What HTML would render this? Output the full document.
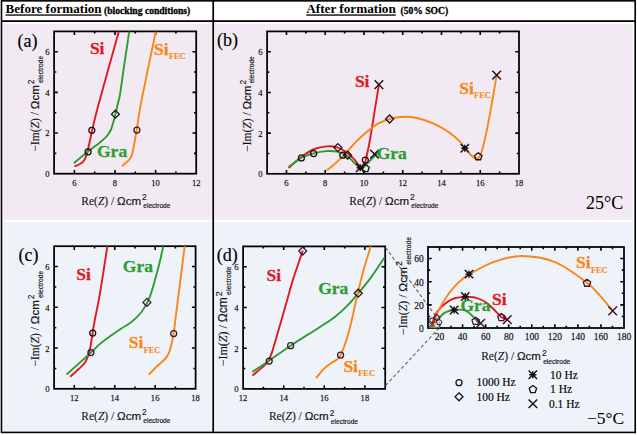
<!DOCTYPE html>
<html><head><meta charset="utf-8"><style>html,body{margin:0;padding:0;background:#fff;}svg{display:block;}</style></head>
<body>
<svg width="637" height="435" viewBox="0 0 637 435">
<rect width="637" height="435" fill="#fdfdfd"/>
<rect x="1.5" y="0.8" width="633.5" height="431.4" fill="#fff"/>
<rect x="3" y="23.6" width="208.6" height="196.2" fill="#f2eaf3"/>
<rect x="214.6" y="23.6" width="418.4" height="196.2" fill="#f2eaf3"/>
<rect x="3" y="221.8" width="208.6" height="209.4" fill="#eef3fa"/>
<rect x="214.6" y="221.8" width="418.4" height="209.4" fill="#eef3fa"/>
<rect x="1.5" y="0.85" width="633.7" height="431.55" fill="none" stroke="#000" stroke-width="1.6"/>
<path d="M1.5,21.0H635.2M213.2,0.9V432.4" stroke="#000" stroke-width="1.75"/>
<text x="5.5" y="13.4" font-family='"Liberation Serif", serif' font-size="13.1" font-weight="bold" fill="#000" text-decoration="underline">Before formation</text>
<text x="104.10" y="13.90" font-family='"Liberation Serif", serif' font-size="9.60" font-weight="bold" fill="#000" stroke="#000" stroke-width="0.30" text-anchor="start" >(blocking conditions)</text>
<text x="306.3" y="13.4" font-family='"Liberation Serif", serif' font-size="13.2" font-weight="bold" fill="#000" text-decoration="underline">After formation</text>
<text x="400.50" y="13.90" font-family='"Liberation Serif", serif' font-size="9.60" font-weight="bold" fill="#000" stroke="#000" stroke-width="0.30" text-anchor="start" >(50% SOC)</text>
<text x="17.60" y="46.50" font-family='"Liberation Serif", serif' font-size="18.00" font-weight="normal" fill="#000" stroke="#000" stroke-width="0.15" text-anchor="start" >(a)</text>
<path d="M74.40,173.70V170.00M74.40,31.40V35.10M94.70,173.70V171.50M94.70,31.40V33.60M115.00,173.70V170.00M115.00,31.40V35.10M135.30,173.70V171.50M135.30,31.40V33.60M155.60,173.70V170.00M155.60,31.40V35.10M175.90,173.70V171.50M175.90,31.40V33.60M54.10,153.37H56.30M196.20,153.37H194.00M54.10,133.04H57.80M196.20,133.04H192.50M54.10,112.71H56.30M196.20,112.71H194.00M54.10,92.39H57.80M196.20,92.39H192.50M54.10,72.06H56.30M196.20,72.06H194.00M54.10,51.73H57.80M196.20,51.73H192.50" stroke="#000" stroke-width="1.6" fill="none"/>
<rect x="54.10" y="31.40" width="142.10" height="142.30" fill="none" stroke="#000" stroke-width="1.75"/>
<text x="74.40" y="185.70" font-family='"Liberation Serif", serif' font-size="8.60" font-weight="normal" fill="#111" stroke="#111" stroke-width="0.15" text-anchor="middle" stroke-opacity="0.6" style="stroke-width:0.3">6</text>
<text x="115.00" y="185.70" font-family='"Liberation Serif", serif' font-size="8.60" font-weight="normal" fill="#111" stroke="#111" stroke-width="0.15" text-anchor="middle" stroke-opacity="0.6" style="stroke-width:0.3">8</text>
<text x="155.60" y="185.70" font-family='"Liberation Serif", serif' font-size="8.60" font-weight="normal" fill="#111" stroke="#111" stroke-width="0.15" text-anchor="middle" stroke-opacity="0.6" style="stroke-width:0.3">10</text>
<text x="196.20" y="185.70" font-family='"Liberation Serif", serif' font-size="8.60" font-weight="normal" fill="#111" stroke="#111" stroke-width="0.15" text-anchor="middle" stroke-opacity="0.6" style="stroke-width:0.3">12</text>
<text x="49.60" y="177.14" font-family='"Liberation Serif", serif' font-size="8.60" font-weight="normal" fill="#111" stroke="#111" stroke-width="0.15" text-anchor="end" stroke-opacity="0.6" style="stroke-width:0.3">0</text>
<text x="49.60" y="136.48" font-family='"Liberation Serif", serif' font-size="8.60" font-weight="normal" fill="#111" stroke="#111" stroke-width="0.15" text-anchor="end" stroke-opacity="0.6" style="stroke-width:0.3">2</text>
<text x="49.60" y="95.83" font-family='"Liberation Serif", serif' font-size="8.60" font-weight="normal" fill="#111" stroke="#111" stroke-width="0.15" text-anchor="end" stroke-opacity="0.6" style="stroke-width:0.3">4</text>
<text x="49.60" y="55.17" font-family='"Liberation Serif", serif' font-size="8.60" font-weight="normal" fill="#111" stroke="#111" stroke-width="0.15" text-anchor="end" stroke-opacity="0.6" style="stroke-width:0.3">6</text>
<g transform="translate(38.80,151.50) rotate(-90)">
<text x="0" y="0" font-family='"Liberation Serif", serif' font-size="11.50" fill="#111" stroke="#111" stroke-width="0.1">−Im(<tspan font-style="italic">Z</tspan>) / <tspan font-family='"Liberation Sans", sans-serif' stroke-width="0.18">Ωcm<tspan dx="1.00" dy="-4.60" font-size="8.50" stroke-width="0.12">2</tspan><tspan dx="-3.50" dy="8.30" font-size="6.60" stroke-width="0.15">electrode</tspan></tspan></text>
</g>
<text x="81.30" y="204.50" font-family='"Liberation Serif", serif' font-size="11.50" fill="#111" stroke="#111" stroke-width="0.1">Re(<tspan font-style="italic">Z</tspan>) / <tspan font-family='"Liberation Sans", sans-serif' stroke-width="0.18">Ωcm<tspan dx="1.00" dy="-4.60" font-size="8.50" stroke-width="0.12">2</tspan><tspan dx="-3.50" dy="8.30" font-size="6.60" stroke-width="0.15">electrode</tspan></tspan></text>
<path d="M74.50,166.30 C75.25,166.00 77.53,165.33 79.00,164.50 C80.47,163.67 82.17,162.58 83.30,161.30 C84.43,160.02 85.03,158.72 85.80,156.80 C86.57,154.88 87.17,152.70 87.90,149.80 C88.63,146.90 89.50,142.63 90.20,139.40 C90.90,136.17 90.73,136.13 92.10,130.40 C93.47,124.67 93.95,121.47 98.40,105.00 C102.85,88.53 115.40,43.83 118.80,31.60" fill="none" stroke="#e3171f" stroke-width="1.90" stroke-linecap="butt" stroke-linejoin="round"/>
<path d="M73.70,163.30 C76.08,161.33 83.63,154.98 88.00,151.50 C92.37,148.02 96.82,144.90 99.90,142.40 C102.98,139.90 104.65,138.65 106.50,136.50 C108.35,134.35 109.83,132.00 111.00,129.50 C112.17,127.00 112.78,123.97 113.50,121.50 C114.22,119.03 114.63,117.45 115.30,114.70 C115.97,111.95 116.72,108.40 117.50,105.00 C118.28,101.60 119.00,100.13 120.00,94.30 C121.00,88.47 121.97,80.45 123.50,70.00 C125.03,59.55 128.25,38.00 129.20,31.60" fill="none" stroke="#2f9c2f" stroke-width="1.90" stroke-linecap="butt" stroke-linejoin="round"/>
<path d="M121.80,166.30 C122.42,165.75 124.22,164.17 125.50,163.00 C126.78,161.83 128.42,160.72 129.50,159.30 C130.58,157.88 131.20,157.13 132.00,154.50 C132.80,151.87 133.52,147.62 134.30,143.50 C135.08,139.38 135.48,137.05 136.70,129.80 C137.92,122.55 138.42,116.37 141.60,100.00 C144.78,83.63 153.43,43.00 155.80,31.60" fill="none" stroke="#fb8616" stroke-width="1.90" stroke-linecap="butt" stroke-linejoin="round"/>
<circle cx="91.80" cy="130.30" r="3.00" fill="none" stroke="#1b0f16" stroke-width="1.25"/>
<circle cx="88.10" cy="151.80" r="3.00" fill="none" stroke="#1b0f16" stroke-width="1.25"/>
<path d="M115.40,110.20 L119.40,114.20 L115.40,118.20 L111.40,114.20 Z" fill="none" stroke="#1b0f16" stroke-width="1.25"/>
<circle cx="136.90" cy="130.00" r="3.00" fill="none" stroke="#3e1434" stroke-width="1.25"/>
<text x="89.90" y="54.10" font-family='"Liberation Serif", serif' font-size="17.50" font-weight="bold" fill="#e3171f" stroke="#e3171f" stroke-width="0.30" text-anchor="start" >Si</text>
<text x="97.00" y="156.50" font-family='"Liberation Serif", serif' font-size="17.50" font-weight="bold" fill="#2f9c2f" stroke="#2f9c2f" stroke-width="0.30" text-anchor="start" >Gra</text>
<text x="154.00" y="54.70" font-family='"Liberation Serif", serif' font-size="17.50" font-weight="bold" fill="#fb8616" stroke="#fb8616" stroke-width="0.30">Si<tspan font-size="8.3" dy="4.5" dx="0.3" stroke-width="0.15">FEC</tspan></text>
<text x="217.10" y="46.00" font-family='"Liberation Serif", serif' font-size="18.00" font-weight="normal" fill="#000" stroke="#000" stroke-width="0.15" text-anchor="start" >(b)</text>
<path d="M286.48,173.80V170.10M286.48,31.40V35.10M305.85,173.80V171.60M305.85,31.40V33.60M325.23,173.80V170.10M325.23,31.40V35.10M344.61,173.80V171.60M344.61,31.40V33.60M363.98,173.80V170.10M363.98,31.40V35.10M383.36,173.80V171.60M383.36,31.40V33.60M402.74,173.80V170.10M402.74,31.40V35.10M422.12,173.80V171.60M422.12,31.40V33.60M441.49,173.80V170.10M441.49,31.40V35.10M460.87,173.80V171.60M460.87,31.40V33.60M480.25,173.80V170.10M480.25,31.40V35.10M499.62,173.80V171.60M499.62,31.40V33.60M267.10,153.46H269.30M519.00,153.46H516.80M267.10,133.11H270.80M519.00,133.11H515.30M267.10,112.77H269.30M519.00,112.77H516.80M267.10,92.43H270.80M519.00,92.43H515.30M267.10,72.09H269.30M519.00,72.09H516.80M267.10,51.74H270.80M519.00,51.74H515.30" stroke="#000" stroke-width="1.6" fill="none"/>
<rect x="267.10" y="31.40" width="251.90" height="142.40" fill="none" stroke="#000" stroke-width="1.75"/>
<text x="286.48" y="185.80" font-family='"Liberation Serif", serif' font-size="8.60" font-weight="normal" fill="#111" stroke="#111" stroke-width="0.15" text-anchor="middle" stroke-opacity="0.6" style="stroke-width:0.3">6</text>
<text x="325.23" y="185.80" font-family='"Liberation Serif", serif' font-size="8.60" font-weight="normal" fill="#111" stroke="#111" stroke-width="0.15" text-anchor="middle" stroke-opacity="0.6" style="stroke-width:0.3">8</text>
<text x="363.98" y="185.80" font-family='"Liberation Serif", serif' font-size="8.60" font-weight="normal" fill="#111" stroke="#111" stroke-width="0.15" text-anchor="middle" stroke-opacity="0.6" style="stroke-width:0.3">10</text>
<text x="402.74" y="185.80" font-family='"Liberation Serif", serif' font-size="8.60" font-weight="normal" fill="#111" stroke="#111" stroke-width="0.15" text-anchor="middle" stroke-opacity="0.6" style="stroke-width:0.3">12</text>
<text x="441.49" y="185.80" font-family='"Liberation Serif", serif' font-size="8.60" font-weight="normal" fill="#111" stroke="#111" stroke-width="0.15" text-anchor="middle" stroke-opacity="0.6" style="stroke-width:0.3">14</text>
<text x="480.25" y="185.80" font-family='"Liberation Serif", serif' font-size="8.60" font-weight="normal" fill="#111" stroke="#111" stroke-width="0.15" text-anchor="middle" stroke-opacity="0.6" style="stroke-width:0.3">16</text>
<text x="519.00" y="185.80" font-family='"Liberation Serif", serif' font-size="8.60" font-weight="normal" fill="#111" stroke="#111" stroke-width="0.15" text-anchor="middle" stroke-opacity="0.6" style="stroke-width:0.3">18</text>
<text x="262.60" y="177.24" font-family='"Liberation Serif", serif' font-size="8.60" font-weight="normal" fill="#111" stroke="#111" stroke-width="0.15" text-anchor="end" stroke-opacity="0.6" style="stroke-width:0.3">0</text>
<text x="262.60" y="136.55" font-family='"Liberation Serif", serif' font-size="8.60" font-weight="normal" fill="#111" stroke="#111" stroke-width="0.15" text-anchor="end" stroke-opacity="0.6" style="stroke-width:0.3">2</text>
<text x="262.60" y="95.87" font-family='"Liberation Serif", serif' font-size="8.60" font-weight="normal" fill="#111" stroke="#111" stroke-width="0.15" text-anchor="end" stroke-opacity="0.6" style="stroke-width:0.3">4</text>
<text x="262.60" y="55.18" font-family='"Liberation Serif", serif' font-size="8.60" font-weight="normal" fill="#111" stroke="#111" stroke-width="0.15" text-anchor="end" stroke-opacity="0.6" style="stroke-width:0.3">6</text>
<g transform="translate(250.50,151.80) rotate(-90)">
<text x="0" y="0" font-family='"Liberation Serif", serif' font-size="11.50" fill="#111" stroke="#111" stroke-width="0.1">−Im(<tspan font-style="italic">Z</tspan>) / <tspan font-family='"Liberation Sans", sans-serif' stroke-width="0.18">Ωcm<tspan dx="1.00" dy="-4.60" font-size="8.50" stroke-width="0.12">2</tspan><tspan dx="-3.50" dy="8.30" font-size="6.60" stroke-width="0.15">electrode</tspan></tspan></text>
</g>
<text x="349.30" y="204.50" font-family='"Liberation Serif", serif' font-size="11.50" fill="#111" stroke="#111" stroke-width="0.1">Re(<tspan font-style="italic">Z</tspan>) / <tspan font-family='"Liberation Sans", sans-serif' stroke-width="0.18">Ωcm<tspan dx="1.00" dy="-4.60" font-size="8.50" stroke-width="0.12">2</tspan><tspan dx="-3.50" dy="8.30" font-size="6.60" stroke-width="0.15">electrode</tspan></tspan></text>
<path d="M288.60,168.00 C290.77,166.13 297.28,159.97 301.60,156.80 C305.92,153.63 310.33,150.73 314.50,149.00 C318.67,147.27 322.85,146.68 326.60,146.40 C330.35,146.12 333.83,146.43 337.00,147.30 C340.17,148.17 342.72,149.58 345.60,151.60 C348.48,153.62 351.85,156.77 354.30,159.40 C356.75,162.03 359.30,166.07 360.30,167.40" fill="none" stroke="#e3171f" stroke-width="1.90" stroke-linecap="butt" stroke-linejoin="round"/>
<path d="M360.30,167.40 C360.93,167.08 362.65,169.23 364.10,165.50 C365.55,161.77 367.62,151.75 369.00,145.00 C370.38,138.25 370.75,135.07 372.40,125.00 C374.05,114.93 377.82,91.33 378.90,84.60" fill="none" stroke="#e3171f" stroke-width="1.90" stroke-linecap="butt" stroke-linejoin="round"/>
<path d="M288.60,167.10 C290.77,165.52 297.42,159.90 301.60,157.60 C305.78,155.30 309.67,154.38 313.70,153.30 C317.73,152.22 321.92,151.38 325.80,151.10 C329.68,150.82 333.55,150.85 337.00,151.60 C340.45,152.35 343.62,153.73 346.50,155.60 C349.38,157.47 351.85,160.45 354.30,162.80 C356.75,165.15 360.05,168.55 361.20,169.70" fill="none" stroke="#2f9c2f" stroke-width="1.90" stroke-linecap="butt" stroke-linejoin="round"/>
<path d="M361.20,169.70 C363.13,167.72 369.67,160.88 372.80,157.80 C375.93,154.72 378.80,152.30 380.00,151.20" fill="none" stroke="#2f9c2f" stroke-width="1.90" stroke-linecap="butt" stroke-linejoin="round"/>
<path d="M326.90,170.30 C328.05,169.38 330.93,167.32 333.80,164.80 C336.67,162.28 340.65,158.77 344.10,155.20 C347.55,151.63 350.93,147.08 354.50,143.40 C358.07,139.72 361.58,136.40 365.50,133.10 C369.42,129.80 373.98,125.95 378.00,123.60 C382.02,121.25 385.83,120.10 389.60,119.00 C393.37,117.90 397.00,117.33 400.60,117.00 C404.20,116.67 407.27,116.50 411.20,117.00 C415.13,117.50 419.68,118.52 424.20,120.00 C428.72,121.48 434.00,123.73 438.30,125.90 C442.60,128.07 446.47,130.45 450.00,133.00 C453.53,135.55 457.02,138.73 459.50,141.20 C461.98,143.67 462.95,145.45 464.90,147.80 C466.85,150.15 469.38,153.50 471.20,155.30 C473.02,157.10 474.40,158.40 475.80,158.60 C477.20,158.80 478.40,158.42 479.60,156.50 C480.80,154.58 481.65,152.20 483.00,147.10 C484.35,142.00 486.13,133.75 487.70,125.90 C489.27,118.05 490.90,108.47 492.40,100.00 C493.90,91.53 495.98,79.25 496.70,75.10" fill="none" stroke="#fb8616" stroke-width="1.90" stroke-linecap="butt" stroke-linejoin="round"/>
<circle cx="301.40" cy="157.90" r="3.00" fill="none" stroke="#1b0f16" stroke-width="1.25"/>
<circle cx="313.70" cy="153.60" r="3.00" fill="none" stroke="#1b0f16" stroke-width="1.25"/>
<circle cx="342.80" cy="155.20" r="3.00" fill="none" stroke="#1b0f16" stroke-width="1.25"/>
<circle cx="365.30" cy="160.00" r="3.00" fill="none" stroke="#1b0f16" stroke-width="1.25"/>
<path d="M337.90,143.60 L341.90,147.60 L337.90,151.60 L333.90,147.60 Z" fill="none" stroke="#1b0f16" stroke-width="1.25"/>
<path d="M347.60,151.20 L351.60,155.20 L347.60,159.20 L343.60,155.20 Z" fill="none" stroke="#1b0f16" stroke-width="1.25"/>
<path d="M389.60,115.00 L393.60,119.00 L389.60,123.00 L385.60,119.00 Z" fill="none" stroke="#1b0f16" stroke-width="1.25"/>
<path d="M356.00,163.60 L364.40,172.00 M356.00,172.00 L364.40,163.60 M356.63,167.80 L363.77,167.80 M360.20,164.23 L360.20,171.37" stroke="#1b0f16" stroke-width="1.45"/>
<circle cx="360.20" cy="167.80" r="1.9" fill="#1b0f16"/>
<path d="M460.60,144.10 L469.00,152.50 M460.60,152.50 L469.00,144.10 M461.23,148.30 L468.37,148.30 M464.80,144.73 L464.80,151.87" stroke="#1b0f16" stroke-width="1.45"/>
<circle cx="464.80" cy="148.30" r="1.9" fill="#1b0f16"/>
<polygon points="365.50,164.50 369.21,167.19 367.79,171.56 363.21,171.56 361.79,167.19" fill="none" stroke="#1b0f16" stroke-width="1.30"/>
<polygon points="478.30,152.70 482.01,155.39 480.59,159.76 476.01,159.76 474.59,155.39" fill="none" stroke="#1b0f16" stroke-width="1.30"/>
<path d="M370.20,149.80 L378.80,158.40 M370.20,158.40 L378.80,149.80" stroke="#1b0f16" stroke-width="1.45"/>
<path d="M374.60,80.30 L383.20,88.90 M374.60,88.90 L383.20,80.30" stroke="#1b0f16" stroke-width="1.45"/>
<path d="M492.40,70.80 L501.00,79.40 M492.40,79.40 L501.00,70.80" stroke="#1b0f16" stroke-width="1.45"/>
<text x="354.90" y="87.20" font-family='"Liberation Serif", serif' font-size="17.50" font-weight="bold" fill="#e3171f" stroke="#e3171f" stroke-width="0.30" text-anchor="start" >Si</text>
<text x="376.70" y="159.10" font-family='"Liberation Serif", serif' font-size="17.50" font-weight="bold" fill="#2f9c2f" stroke="#2f9c2f" stroke-width="0.30" text-anchor="start" >Gra</text>
<text x="459.20" y="93.50" font-family='"Liberation Serif", serif' font-size="17.50" font-weight="bold" fill="#fb8616" stroke="#fb8616" stroke-width="0.30">Si<tspan font-size="8.3" dy="4.5" dx="0.3" stroke-width="0.15">FEC</tspan></text>
<text x="586.00" y="209.00" font-family='"Liberation Serif", serif' font-size="18.00" font-weight="normal" fill="#000" stroke="#000" stroke-width="0.15" text-anchor="start" style="stroke-width:0.05">25°C</text>
<text x="18.50" y="260.50" font-family='"Liberation Serif", serif' font-size="18.00" font-weight="normal" fill="#000" stroke="#000" stroke-width="0.15" text-anchor="start" >(c)</text>
<path d="M74.31,388.80V385.10M74.31,246.20V249.90M94.53,388.80V386.60M94.53,246.20V248.40M114.74,388.80V385.10M114.74,246.20V249.90M134.96,388.80V386.60M134.96,246.20V248.40M155.17,388.80V385.10M155.17,246.20V249.90M175.39,388.80V386.60M175.39,246.20V248.40M54.10,368.43H56.30M195.60,368.43H193.40M54.10,348.06H57.80M195.60,348.06H191.90M54.10,327.69H56.30M195.60,327.69H193.40M54.10,307.31H57.80M195.60,307.31H191.90M54.10,286.94H56.30M195.60,286.94H193.40M54.10,266.57H57.80M195.60,266.57H191.90" stroke="#000" stroke-width="1.6" fill="none"/>
<rect x="54.10" y="246.20" width="141.50" height="142.60" fill="none" stroke="#000" stroke-width="1.75"/>
<text x="74.31" y="400.80" font-family='"Liberation Serif", serif' font-size="8.60" font-weight="normal" fill="#111" stroke="#111" stroke-width="0.15" text-anchor="middle" stroke-opacity="0.6" style="stroke-width:0.3">12</text>
<text x="114.74" y="400.80" font-family='"Liberation Serif", serif' font-size="8.60" font-weight="normal" fill="#111" stroke="#111" stroke-width="0.15" text-anchor="middle" stroke-opacity="0.6" style="stroke-width:0.3">14</text>
<text x="155.17" y="400.80" font-family='"Liberation Serif", serif' font-size="8.60" font-weight="normal" fill="#111" stroke="#111" stroke-width="0.15" text-anchor="middle" stroke-opacity="0.6" style="stroke-width:0.3">16</text>
<text x="195.60" y="400.80" font-family='"Liberation Serif", serif' font-size="8.60" font-weight="normal" fill="#111" stroke="#111" stroke-width="0.15" text-anchor="middle" stroke-opacity="0.6" style="stroke-width:0.3">18</text>
<text x="49.60" y="392.24" font-family='"Liberation Serif", serif' font-size="8.60" font-weight="normal" fill="#111" stroke="#111" stroke-width="0.15" text-anchor="end" stroke-opacity="0.6" style="stroke-width:0.3">0</text>
<text x="49.60" y="351.50" font-family='"Liberation Serif", serif' font-size="8.60" font-weight="normal" fill="#111" stroke="#111" stroke-width="0.15" text-anchor="end" stroke-opacity="0.6" style="stroke-width:0.3">2</text>
<text x="49.60" y="310.75" font-family='"Liberation Serif", serif' font-size="8.60" font-weight="normal" fill="#111" stroke="#111" stroke-width="0.15" text-anchor="end" stroke-opacity="0.6" style="stroke-width:0.3">4</text>
<text x="49.60" y="270.01" font-family='"Liberation Serif", serif' font-size="8.60" font-weight="normal" fill="#111" stroke="#111" stroke-width="0.15" text-anchor="end" stroke-opacity="0.6" style="stroke-width:0.3">6</text>
<g transform="translate(38.80,366.50) rotate(-90)">
<text x="0" y="0" font-family='"Liberation Serif", serif' font-size="11.50" fill="#111" stroke="#111" stroke-width="0.1">−Im(<tspan font-style="italic">Z</tspan>) / <tspan font-family='"Liberation Sans", sans-serif' stroke-width="0.18">Ωcm<tspan dx="1.00" dy="-4.60" font-size="8.50" stroke-width="0.12">2</tspan><tspan dx="-3.50" dy="8.30" font-size="6.60" stroke-width="0.15">electrode</tspan></tspan></text>
</g>
<text x="81.30" y="419.50" font-family='"Liberation Serif", serif' font-size="11.50" fill="#111" stroke="#111" stroke-width="0.1">Re(<tspan font-style="italic">Z</tspan>) / <tspan font-family='"Liberation Sans", sans-serif' stroke-width="0.18">Ωcm<tspan dx="1.00" dy="-4.60" font-size="8.50" stroke-width="0.12">2</tspan><tspan dx="-3.50" dy="8.30" font-size="6.60" stroke-width="0.15">electrode</tspan></tspan></text>
<path d="M70.20,376.70 C71.57,375.47 76.03,371.53 78.40,369.30 C80.77,367.07 82.78,365.55 84.40,363.30 C86.02,361.05 87.10,358.53 88.10,355.80 C89.10,353.07 89.65,350.68 90.40,346.90 C91.15,343.12 91.87,337.58 92.60,333.10 C93.33,328.62 93.57,326.67 94.80,320.00 C96.03,313.33 97.90,305.40 100.00,293.10 C102.10,280.80 106.17,254.02 107.40,246.20" fill="none" stroke="#e3171f" stroke-width="1.90" stroke-linecap="butt" stroke-linejoin="round"/>
<path d="M66.50,374.50 C70.53,370.88 85.12,357.90 90.70,352.80 C96.28,347.70 96.83,346.60 100.00,343.90 C103.17,341.20 106.08,339.22 109.70,336.60 C113.32,333.98 118.08,330.62 121.70,328.20 C125.32,325.78 128.17,324.72 131.40,322.10 C134.63,319.48 138.48,315.72 141.10,312.50 C143.72,309.28 145.50,305.83 147.10,302.80 C148.70,299.77 149.50,297.72 150.70,294.30 C151.90,290.88 152.88,287.32 154.30,282.30 C155.72,277.28 157.70,270.22 159.20,264.20 C160.70,258.18 162.62,249.20 163.30,246.20" fill="none" stroke="#2f9c2f" stroke-width="1.90" stroke-linecap="butt" stroke-linejoin="round"/>
<path d="M148.60,374.70 C150.03,373.25 154.62,368.45 157.20,366.00 C159.78,363.55 162.23,362.00 164.10,360.00 C165.97,358.00 167.25,356.30 168.40,354.00 C169.55,351.70 170.13,349.57 171.00,346.20 C171.87,342.83 172.67,339.83 173.60,333.80 C174.53,327.77 174.75,324.60 176.60,310.00 C178.45,295.40 183.35,256.83 184.70,246.20" fill="none" stroke="#fb8616" stroke-width="1.90" stroke-linecap="butt" stroke-linejoin="round"/>
<circle cx="92.70" cy="333.00" r="3.00" fill="none" stroke="#1b0f16" stroke-width="1.25"/>
<circle cx="90.90" cy="352.60" r="3.00" fill="none" stroke="#3e1434" stroke-width="1.25"/>
<path d="M146.90,298.40 L150.90,302.40 L146.90,306.40 L142.90,302.40 Z" fill="none" stroke="#3e1434" stroke-width="1.25"/>
<circle cx="173.70" cy="333.50" r="3.00" fill="none" stroke="#3e1434" stroke-width="1.25"/>
<text x="76.20" y="279.80" font-family='"Liberation Serif", serif' font-size="17.50" font-weight="bold" fill="#e3171f" stroke="#e3171f" stroke-width="0.30" text-anchor="start" >Si</text>
<text x="122.80" y="271.60" font-family='"Liberation Serif", serif' font-size="17.50" font-weight="bold" fill="#2f9c2f" stroke="#2f9c2f" stroke-width="0.30" text-anchor="start" >Gra</text>
<text x="128.80" y="348.00" font-family='"Liberation Serif", serif' font-size="17.50" font-weight="bold" fill="#fb8616" stroke="#fb8616" stroke-width="0.30">Si<tspan font-size="8.3" dy="4.5" dx="0.3" stroke-width="0.15">FEC</tspan></text>
<text x="216.80" y="261.00" font-family='"Liberation Serif", serif' font-size="18.00" font-weight="normal" fill="#000" stroke="#000" stroke-width="0.15" text-anchor="start" >(d)</text>
<path d="M263.40,388.90V386.70M263.40,246.40V248.60M283.70,388.90V385.20M283.70,246.40V250.10M304.00,388.90V386.70M304.00,246.40V248.60M324.30,388.90V385.20M324.30,246.40V250.10M344.60,388.90V386.70M344.60,246.40V248.60M364.90,388.90V385.20M364.90,246.40V250.10M243.10,368.54H245.30M385.20,368.54H383.00M243.10,348.19H246.80M385.20,348.19H381.50M243.10,327.83H245.30M385.20,327.83H383.00M243.10,307.47H246.80M385.20,307.47H381.50M243.10,287.11H245.30M385.20,287.11H383.00M243.10,266.76H246.80M385.20,266.76H381.50" stroke="#000" stroke-width="1.6" fill="none"/>
<rect x="243.10" y="246.40" width="142.10" height="142.50" fill="none" stroke="#000" stroke-width="1.75"/>
<text x="243.10" y="400.90" font-family='"Liberation Serif", serif' font-size="8.60" font-weight="normal" fill="#111" stroke="#111" stroke-width="0.15" text-anchor="middle" stroke-opacity="0.6" style="stroke-width:0.3">12</text>
<text x="283.70" y="400.90" font-family='"Liberation Serif", serif' font-size="8.60" font-weight="normal" fill="#111" stroke="#111" stroke-width="0.15" text-anchor="middle" stroke-opacity="0.6" style="stroke-width:0.3">14</text>
<text x="324.30" y="400.90" font-family='"Liberation Serif", serif' font-size="8.60" font-weight="normal" fill="#111" stroke="#111" stroke-width="0.15" text-anchor="middle" stroke-opacity="0.6" style="stroke-width:0.3">16</text>
<text x="364.90" y="400.90" font-family='"Liberation Serif", serif' font-size="8.60" font-weight="normal" fill="#111" stroke="#111" stroke-width="0.15" text-anchor="middle" stroke-opacity="0.6" style="stroke-width:0.3">18</text>
<text x="238.60" y="392.34" font-family='"Liberation Serif", serif' font-size="8.60" font-weight="normal" fill="#111" stroke="#111" stroke-width="0.15" text-anchor="end" stroke-opacity="0.6" style="stroke-width:0.3">0</text>
<text x="238.60" y="351.63" font-family='"Liberation Serif", serif' font-size="8.60" font-weight="normal" fill="#111" stroke="#111" stroke-width="0.15" text-anchor="end" stroke-opacity="0.6" style="stroke-width:0.3">2</text>
<text x="238.60" y="310.91" font-family='"Liberation Serif", serif' font-size="8.60" font-weight="normal" fill="#111" stroke="#111" stroke-width="0.15" text-anchor="end" stroke-opacity="0.6" style="stroke-width:0.3">4</text>
<text x="238.60" y="270.20" font-family='"Liberation Serif", serif' font-size="8.60" font-weight="normal" fill="#111" stroke="#111" stroke-width="0.15" text-anchor="end" stroke-opacity="0.6" style="stroke-width:0.3">6</text>
<g transform="translate(227.00,366.30) rotate(-90)">
<text x="0" y="0" font-family='"Liberation Serif", serif' font-size="12.00" fill="#111" stroke="#111" stroke-width="0.1">−Im(<tspan font-style="italic">Z</tspan>) / <tspan font-family='"Liberation Sans", sans-serif' stroke-width="0.18">Ωcm<tspan dx="1.04" dy="-4.80" font-size="8.87" stroke-width="0.12">2</tspan><tspan dx="-3.65" dy="8.66" font-size="6.89" stroke-width="0.15">electrode</tspan></tspan></text>
</g>
<text x="268.90" y="420.20" font-family='"Liberation Serif", serif' font-size="11.50" fill="#111" stroke="#111" stroke-width="0.1">Re(<tspan font-style="italic">Z</tspan>) / <tspan font-family='"Liberation Sans", sans-serif' stroke-width="0.18">Ωcm<tspan dx="1.00" dy="-4.60" font-size="8.50" stroke-width="0.12">2</tspan><tspan dx="-3.50" dy="8.30" font-size="6.60" stroke-width="0.15">electrode</tspan></tspan></text>
<path d="M252.40,375.60 C254.22,374.07 260.65,368.85 263.30,366.40 C265.95,363.95 266.87,363.20 268.30,360.90 C269.73,358.60 270.62,356.28 271.90,352.60 C273.18,348.92 274.38,344.32 276.00,338.80 C277.62,333.28 279.75,325.93 281.60,319.50 C283.45,313.07 285.27,306.63 287.10,300.20 C288.93,293.77 290.77,286.88 292.60,280.90 C294.43,274.92 296.40,269.37 298.10,264.30 C299.80,259.23 302.02,252.80 302.80,250.50" fill="none" stroke="#e3171f" stroke-width="1.90" stroke-linecap="butt" stroke-linejoin="round"/>
<path d="M252.40,371.90 C255.12,370.08 262.33,365.37 268.70,361.00 C275.07,356.63 282.38,351.17 290.60,345.70 C298.82,340.23 310.57,333.03 318.00,328.20 C325.43,323.37 330.22,320.53 335.20,316.70 C340.18,312.87 344.07,309.12 347.90,305.20 C351.73,301.28 354.37,297.80 358.20,293.20 C362.03,288.60 366.52,283.55 370.90,277.60 C375.28,271.65 382.23,260.85 384.50,257.50" fill="none" stroke="#2f9c2f" stroke-width="1.90" stroke-linecap="butt" stroke-linejoin="round"/>
<path d="M316.00,378.20 C317.23,376.72 320.92,371.78 323.40,369.30 C325.88,366.82 328.65,364.92 330.90,363.30 C333.15,361.68 335.28,360.97 336.90,359.60 C338.52,358.23 339.23,357.72 340.60,355.10 C341.97,352.48 343.73,347.77 345.10,343.90 C346.47,340.03 347.68,335.88 348.80,331.90 C349.92,327.92 350.42,325.98 351.80,320.00 C353.18,314.02 355.07,304.60 357.10,296.00 C359.13,287.40 361.72,276.67 364.00,268.40 C366.28,260.13 369.67,250.07 370.80,246.40" fill="none" stroke="#fb8616" stroke-width="1.90" stroke-linecap="butt" stroke-linejoin="round"/>
<circle cx="269.20" cy="361.00" r="3.00" fill="none" stroke="#3e1434" stroke-width="1.25"/>
<circle cx="290.60" cy="345.70" r="3.00" fill="none" stroke="#3e1434" stroke-width="1.25"/>
<circle cx="340.60" cy="355.10" r="3.00" fill="none" stroke="#3e1434" stroke-width="1.25"/>
<path d="M302.70,247.00 L306.70,251.00 L302.70,255.00 L298.70,251.00 Z" fill="none" stroke="#3e1434" stroke-width="1.25"/>
<path d="M358.20,289.20 L362.20,293.20 L358.20,297.20 L354.20,293.20 Z" fill="none" stroke="#1b0f16" stroke-width="1.25"/>
<text x="266.50" y="280.60" font-family='"Liberation Serif", serif' font-size="17.50" font-weight="bold" fill="#e3171f" stroke="#e3171f" stroke-width="0.30" text-anchor="start" >Si</text>
<text x="318.20" y="294.20" font-family='"Liberation Serif", serif' font-size="17.50" font-weight="bold" fill="#2f9c2f" stroke="#2f9c2f" stroke-width="0.30" text-anchor="start" >Gra</text>
<text x="343.40" y="371.80" font-family='"Liberation Serif", serif' font-size="17.50" font-weight="bold" fill="#fb8616" stroke="#fb8616" stroke-width="0.30">Si<tspan font-size="8.3" dy="4.5" dx="0.3" stroke-width="0.15">FEC</tspan></text>
<path d="M385.5,247.5L437,317.8M385.5,385.7L439.2,327.8" stroke="#6a6a6a" stroke-width="1.15" stroke-dasharray="3.5,2.3" fill="none"/>
<path d="M439.53,328.00V324.30M439.53,247.00V250.70M451.06,328.00V325.80M451.06,247.00V249.20M462.59,328.00V324.30M462.59,247.00V250.70M474.12,328.00V325.80M474.12,247.00V249.20M485.65,328.00V324.30M485.65,247.00V250.70M497.18,328.00V325.80M497.18,247.00V249.20M508.71,328.00V324.30M508.71,247.00V250.70M520.24,328.00V325.80M520.24,247.00V249.20M531.76,328.00V324.30M531.76,247.00V250.70M543.29,328.00V325.80M543.29,247.00V249.20M554.82,328.00V324.30M554.82,247.00V250.70M566.35,328.00V325.80M566.35,247.00V249.20M577.88,328.00V324.30M577.88,247.00V250.70M589.41,328.00V325.80M589.41,247.00V249.20M600.94,328.00V324.30M600.94,247.00V250.70M612.47,328.00V325.80M612.47,247.00V249.20M428.00,316.43H430.20M624.00,316.43H621.80M428.00,304.86H431.70M624.00,304.86H620.30M428.00,293.29H430.20M624.00,293.29H621.80M428.00,281.71H431.70M624.00,281.71H620.30M428.00,270.14H430.20M624.00,270.14H621.80M428.00,258.57H431.70M624.00,258.57H620.30" stroke="#000" stroke-width="1.6" fill="none"/>
<rect x="428.00" y="247.00" width="196.00" height="81.00" fill="none" stroke="#000" stroke-width="1.75"/>
<text x="439.53" y="340.00" font-family='"Liberation Serif", serif' font-size="9.50" font-weight="normal" fill="#111" stroke="#111" stroke-width="0.15" text-anchor="middle" stroke-opacity="0.6" style="stroke-width:0.3">20</text>
<text x="462.59" y="340.00" font-family='"Liberation Serif", serif' font-size="9.50" font-weight="normal" fill="#111" stroke="#111" stroke-width="0.15" text-anchor="middle" stroke-opacity="0.6" style="stroke-width:0.3">40</text>
<text x="485.65" y="340.00" font-family='"Liberation Serif", serif' font-size="9.50" font-weight="normal" fill="#111" stroke="#111" stroke-width="0.15" text-anchor="middle" stroke-opacity="0.6" style="stroke-width:0.3">60</text>
<text x="508.71" y="340.00" font-family='"Liberation Serif", serif' font-size="9.50" font-weight="normal" fill="#111" stroke="#111" stroke-width="0.15" text-anchor="middle" stroke-opacity="0.6" style="stroke-width:0.3">80</text>
<text x="531.76" y="340.00" font-family='"Liberation Serif", serif' font-size="9.50" font-weight="normal" fill="#111" stroke="#111" stroke-width="0.15" text-anchor="middle" stroke-opacity="0.6" style="stroke-width:0.3">100</text>
<text x="554.82" y="340.00" font-family='"Liberation Serif", serif' font-size="9.50" font-weight="normal" fill="#111" stroke="#111" stroke-width="0.15" text-anchor="middle" stroke-opacity="0.6" style="stroke-width:0.3">120</text>
<text x="577.88" y="340.00" font-family='"Liberation Serif", serif' font-size="9.50" font-weight="normal" fill="#111" stroke="#111" stroke-width="0.15" text-anchor="middle" stroke-opacity="0.6" style="stroke-width:0.3">140</text>
<text x="600.94" y="340.00" font-family='"Liberation Serif", serif' font-size="9.50" font-weight="normal" fill="#111" stroke="#111" stroke-width="0.15" text-anchor="middle" stroke-opacity="0.6" style="stroke-width:0.3">160</text>
<text x="624.00" y="340.00" font-family='"Liberation Serif", serif' font-size="9.50" font-weight="normal" fill="#111" stroke="#111" stroke-width="0.15" text-anchor="middle" stroke-opacity="0.6" style="stroke-width:0.3">180</text>
<text x="423.70" y="331.80" font-family='"Liberation Serif", serif' font-size="9.50" font-weight="normal" fill="#111" stroke="#111" stroke-width="0.15" text-anchor="end" stroke-opacity="0.6" style="stroke-width:0.3">0</text>
<text x="423.70" y="308.66" font-family='"Liberation Serif", serif' font-size="9.50" font-weight="normal" fill="#111" stroke="#111" stroke-width="0.15" text-anchor="end" stroke-opacity="0.6" style="stroke-width:0.3">20</text>
<text x="423.70" y="285.51" font-family='"Liberation Serif", serif' font-size="9.50" font-weight="normal" fill="#111" stroke="#111" stroke-width="0.15" text-anchor="end" stroke-opacity="0.6" style="stroke-width:0.3">40</text>
<text x="423.70" y="262.37" font-family='"Liberation Serif", serif' font-size="9.50" font-weight="normal" fill="#111" stroke="#111" stroke-width="0.15" text-anchor="end" stroke-opacity="0.6" style="stroke-width:0.3">60</text>
<g transform="translate(407.20,335.00) rotate(-90)">
<text x="0" y="0" font-family='"Liberation Serif", serif' font-size="11.80" fill="#111" stroke="#111" stroke-width="0.1">−Im(<tspan font-style="italic">Z</tspan>) / <tspan font-family='"Liberation Sans", sans-serif' stroke-width="0.18">Ωcm<tspan dx="1.03" dy="-4.72" font-size="8.72" stroke-width="0.12">2</tspan><tspan dx="-3.59" dy="8.52" font-size="6.77" stroke-width="0.15">electrode</tspan></tspan></text>
</g>
<text x="481.20" y="360.40" font-family='"Liberation Serif", serif' font-size="11.50" fill="#111" stroke="#111" stroke-width="0.1">Re(<tspan font-style="italic">Z</tspan>) / <tspan font-family='"Liberation Sans", sans-serif' stroke-width="0.18">Ωcm<tspan dx="1.00" dy="-4.60" font-size="8.50" stroke-width="0.12">2</tspan><tspan dx="-3.50" dy="8.30" font-size="6.60" stroke-width="0.15">electrode</tspan></tspan></text>
<path d="M431.20,327.00 C431.93,324.87 433.83,317.60 435.60,314.20 C437.37,310.80 439.62,308.78 441.80,306.60 C443.98,304.42 446.40,302.53 448.70,301.10 C451.00,299.67 452.77,298.70 455.60,298.00 C458.43,297.30 462.73,297.03 465.70,296.90 C468.67,296.77 470.90,296.77 473.40,297.20 C475.90,297.63 478.45,298.52 480.70,299.50 C482.95,300.48 484.83,301.55 486.90,303.10 C488.97,304.65 491.20,306.98 493.10,308.80 C495.00,310.62 496.92,312.62 498.30,314.00 C499.68,315.38 499.95,316.17 501.40,317.10 C502.85,318.03 506.07,319.18 507.00,319.60" fill="none" stroke="#e3171f" stroke-width="1.90" stroke-linecap="butt" stroke-linejoin="round"/>
<path d="M431.00,327.50 C431.58,326.75 433.17,324.65 434.50,323.00 C435.83,321.35 437.08,319.42 439.00,317.60 C440.92,315.78 443.47,313.37 446.00,312.10 C448.53,310.83 451.22,310.35 454.20,310.00 C457.18,309.65 461.35,309.47 463.90,310.00 C466.45,310.53 467.62,311.73 469.50,313.20 C471.38,314.67 473.78,317.33 475.20,318.80 C476.62,320.27 477.07,321.17 478.00,322.00 C478.93,322.83 480.33,323.50 480.80,323.80" fill="none" stroke="#2f9c2f" stroke-width="1.90" stroke-linecap="butt" stroke-linejoin="round"/>
<path d="M434.00,328.00 C434.38,325.93 435.00,319.52 436.30,315.60 C437.60,311.68 439.73,308.13 441.80,304.50 C443.87,300.87 446.40,297.00 448.70,293.80 C451.00,290.60 453.30,287.78 455.60,285.30 C457.90,282.82 460.23,280.73 462.50,278.90 C464.77,277.07 464.15,277.07 469.20,274.30 C474.25,271.53 484.17,265.35 492.80,262.30 C501.43,259.25 510.53,256.00 521.00,256.00 C531.47,256.00 544.60,257.85 555.60,262.30 C566.60,266.75 579.68,277.22 587.00,282.70 C594.32,288.18 595.22,290.50 599.50,295.20 C603.78,299.90 610.50,308.28 612.70,310.90" fill="none" stroke="#fb8616" stroke-width="1.90" stroke-linecap="butt" stroke-linejoin="round"/>
<path d="M461.10,292.30 L469.50,300.70 M461.10,300.70 L469.50,292.30 M461.73,296.50 L468.87,296.50 M465.30,292.93 L465.30,300.07" stroke="#1b0f16" stroke-width="1.45"/>
<circle cx="465.30" cy="296.50" r="1.9" fill="#1b0f16"/>
<path d="M450.00,305.80 L458.40,314.20 M450.00,314.20 L458.40,305.80 M450.63,310.00 L457.77,310.00 M454.20,306.43 L454.20,313.57" stroke="#1b0f16" stroke-width="1.45"/>
<circle cx="454.20" cy="310.00" r="1.9" fill="#1b0f16"/>
<path d="M464.80,269.90 L473.20,278.30 M464.80,278.30 L473.20,269.90 M465.43,274.10 L472.57,274.10 M469.00,270.53 L469.00,277.67" stroke="#1b0f16" stroke-width="1.45"/>
<circle cx="469.00" cy="274.10" r="1.9" fill="#1b0f16"/>
<polygon points="501.40,313.60 505.11,316.29 503.69,320.66 499.11,320.66 497.69,316.29" fill="none" stroke="#3e1434" stroke-width="1.30"/>
<polygon points="475.70,317.40 479.41,320.09 477.99,324.46 473.41,324.46 471.99,320.09" fill="none" stroke="#3e1434" stroke-width="1.30"/>
<polygon points="587.00,279.20 590.71,281.89 589.29,286.26 584.71,286.26 583.29,281.89" fill="none" stroke="#3e1434" stroke-width="1.30"/>
<path d="M503.00,315.30 L511.60,323.90 M503.00,323.90 L511.60,315.30" stroke="#3e1434" stroke-width="1.45"/>
<path d="M476.40,319.00 L485.00,327.60 M476.40,327.60 L485.00,319.00" stroke="#3e1434" stroke-width="1.45"/>
<path d="M608.40,306.60 L617.00,315.20 M608.40,315.20 L617.00,306.60" stroke="#3e1434" stroke-width="1.45"/>
<rect x="429.6" y="318.5" width="10.2" height="9.3" fill="#b0b0b0" fill-opacity="0.25" stroke="#8a8a8a" stroke-width="0.6"/>
<path d="M437.00,314.40 L440.20,317.60 L437.00,320.80 L433.80,317.60 Z" fill="none" stroke="#3e1434" stroke-width="1.05"/>
<circle cx="432.20" cy="320.30" r="2.50" fill="none" stroke="#3e1434" stroke-width="1.00"/>
<polygon points="439.20,319.30 441.96,321.30 440.90,324.55 437.50,324.55 436.44,321.30" fill="none" stroke="#3e1434" stroke-width="1.00"/>
<path d="M429.40,322.20 L434.20,327.00 M429.40,327.00 L434.20,322.20" stroke="#3e1434" stroke-width="0.90"/>
<text x="460.40" y="311.20" font-family='"Liberation Serif", serif' font-size="17.50" font-weight="bold" fill="#2f9c2f" stroke="#2f9c2f" stroke-width="0.30" text-anchor="start" >Gra</text>
<text x="492.10" y="304.80" font-family='"Liberation Serif", serif' font-size="17.50" font-weight="bold" fill="#e3171f" stroke="#e3171f" stroke-width="0.30" text-anchor="start" >Si</text>
<text x="576.00" y="268.00" font-family='"Liberation Serif", serif' font-size="17.50" font-weight="bold" fill="#fb8616" stroke="#fb8616" stroke-width="0.30">Si<tspan font-size="8.3" dy="4.5" dx="0.3" stroke-width="0.15">FEC</tspan></text>
<circle cx="459.00" cy="382.70" r="3.00" fill="none" stroke="#1b0f16" stroke-width="1.25"/>
<text x="476.40" y="386.20" font-family='"Liberation Serif", serif' font-size="11.50" font-weight="normal" fill="#000" stroke="#000" stroke-width="0.15" text-anchor="start" >1000 Hz</text>
<path d="M459.00,392.80 L463.00,396.80 L459.00,400.80 L455.00,396.80 Z" fill="none" stroke="#1b0f16" stroke-width="1.25"/>
<text x="476.40" y="400.60" font-family='"Liberation Serif", serif' font-size="11.50" font-weight="normal" fill="#000" stroke="#000" stroke-width="0.15" text-anchor="start" >100 Hz</text>
<path d="M528.60,370.50 L537.00,378.90 M528.60,378.90 L537.00,370.50 M529.23,374.70 L536.37,374.70 M532.80,371.13 L532.80,378.27" stroke="#1b0f16" stroke-width="1.45"/>
<circle cx="532.80" cy="374.70" r="1.9" fill="#1b0f16"/>
<text x="550.00" y="378.60" font-family='"Liberation Serif", serif' font-size="11.50" font-weight="normal" fill="#000" stroke="#000" stroke-width="0.15" text-anchor="start" >10 Hz</text>
<polygon points="532.90,385.50 536.61,388.19 535.19,392.56 530.61,392.56 529.19,388.19" fill="none" stroke="#1b0f16" stroke-width="1.30"/>
<text x="550.00" y="392.50" font-family='"Liberation Serif", serif' font-size="11.50" font-weight="normal" fill="#000" stroke="#000" stroke-width="0.15" text-anchor="start" >1 Hz</text>
<path d="M528.60,399.50 L537.20,408.10 M528.60,408.10 L537.20,399.50" stroke="#1b0f16" stroke-width="1.45"/>
<text x="548.90" y="407.50" font-family='"Liberation Serif", serif' font-size="11.50" font-weight="normal" fill="#000" stroke="#000" stroke-width="0.15" text-anchor="start" >0.1 Hz</text>
<text x="587.00" y="424.20" font-family='"Liberation Serif", serif' font-size="17.50" font-weight="normal" fill="#000" stroke="#000" stroke-width="0.15" text-anchor="start" style="stroke-width:0.05">−5°C</text>
</svg>
</body></html>
